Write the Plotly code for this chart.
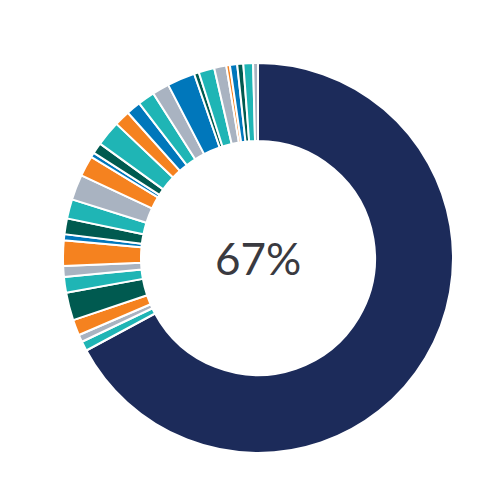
import plotly.graph_objects as go

NAVY = "#1c2b5a"
TEAL = "#1fb5b5"
GRAY = "#a9b3c1"
ORANGE = "#f5821f"
DKGREEN = "#005a50"
BLUE = "#0077bb"

# main share first, then the small ones clockwise (they add up to 33)
values = [67, 0.8, 0.6, 1.3, 2.3, 1.3, 0.9, 2.1, 0.5, 1.3, 1.6, 2.1, 1.7, 0.4, 0.9,
          2.1, 1.3, 1.2, 1.4, 1.4, 2.3, 0.4, 1.3, 1.0, 0.3, 0.6, 0.5, 0.8, 0.4]
colors = [NAVY, TEAL, GRAY, ORANGE, DKGREEN, TEAL, GRAY, ORANGE, BLUE, DKGREEN, TEAL,
          GRAY, ORANGE, BLUE, DKGREEN, TEAL, ORANGE, BLUE, TEAL, GRAY, BLUE, DKGREEN,
          TEAL, GRAY, ORANGE, BLUE, DKGREEN, TEAL, GRAY]

fig = go.Figure(go.Pie(
    values=values,
    marker=dict(colors=colors, line=dict(color="white", width=2)),
    hole=0.6, sort=False, direction="clockwise", rotation=0,
    textinfo="none", hoverinfo="skip",
    domain=dict(x=[0.11, 0.89], y=[0.11, 0.89]),
))
fig.update_layout(
    width=500, height=500, showlegend=False,
    margin=dict(l=0, r=0, t=0, b=0),
    paper_bgcolor="white",
    annotations=[dict(text="67%", x=0.5, y=0.5, showarrow=False,
                      font=dict(size=44, color="#3a3a40", family="Lato"))],
)
fig.write_html("out.html")
